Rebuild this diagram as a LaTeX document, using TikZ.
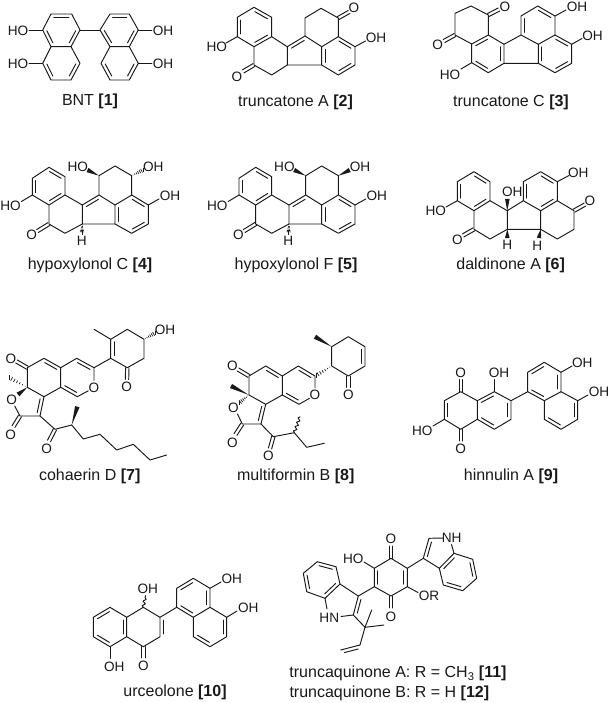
\documentclass[tikz,border=0pt]{standalone}
\usepackage{fontspec}
\setmainfont{Liberation Sans}
\usetikzlibrary{calc,decorations.pathmorphing}
\newcounter{nn}
\tikzset{
  bond/.style={line width=0.95pt,line cap=round,line join=round,black!90},
  atom/.style={inner sep=0pt,font=\fontsize{13.6}{14}\selectfont,black!90},
  captxt/.style={inner sep=0pt,font=\fontsize{16}{17}\selectfont,black!90},
  wavy/.style={bond,decorate,decoration={snake,amplitude=1.4pt,segment length=4.6pt}}
}
% inner line of a double bond, on the right of the way from #1 to #2 (on the page)
\newcommand\dr[2]{\draw[bond] ($(#1)!0.14!(#2)!-3.4pt!90:(#2)$) -- ($(#2)!0.14!(#1)!3.4pt!90:(#1)$);}
% symmetric double bond
\newcommand\dbb[2]{\draw[bond] ($(#1)!1.7pt!90:(#2)$) -- ($(#2)!-1.7pt!90:(#1)$); \draw[bond] ($(#1)!-1.7pt!90:(#2)$) -- ($(#2)!1.7pt!90:(#1)$);}
\newcommand\wdg[2]{\fill[black!90] (#1) -- ($(#2)!2.3pt!90:(#1)$) -- ($(#2)!-2.3pt!90:(#1)$) -- cycle;}
\newcommand\hsh[2]{\foreach \t [evaluate=\t as \w using \t*2.4] in {0.12,0.27,0.42,0.57,0.72,0.87,1.0} {\draw[black!90,line width=0.7pt] ($(#1)!\t!(#2)!\w pt!90:(#2)$) -- ($(#1)!\t!(#2)!-\w pt!90:(#2)$);}}
\newcommand\lb[2]{\stepcounter{nn}\node[atom] (a\thenn) at (#1) {#2};}
\newcommand\cp[2]{\stepcounter{nn}\node[captxt] (c\thenn) at (#1) {#2};}
\newcommand\hypcore{%
  \draw[bond] (32.3,195)--(32.3,178.3)--(49,167.3)--(65,176.7)--(65,195)--(49,205)--cycle;
  \draw[bond] (49,205)--(49,224)--(65,233.3)--(82.3,224)--(82.3,205)--(65,195);
  \draw[bond] (82.3,205)--(99,195)--(115,205)--(115,224)--(82.3,224);
  \draw[bond] (99,195)--(99,175.7)--(115,166)--(131.7,175.7)--(131.7,195)--(115,205);
  \draw[bond] (131.7,195)--(148.3,205)--(148.3,224)--(131.7,233.3)--(115,224);
  \dr{32.3,195}{32.3,178.3}\dr{49,167.3}{65,176.7}\dr{65,195}{49,205}
  \dr{82.3,205}{99,195}
  \dr{131.7,195}{148.3,205}\dr{148.3,224}{131.7,233.3}\dr{115,224}{115,205}
  \dbb{49,224}{37.5,231}
  \draw[bond] (32.3,195)--(21.5,201.5);
  \draw[bond] (148.3,205)--(159,199);
  \hsh{82.3,224}{81.9,233}
  \lb{31.7,234.5}{O}\lb{10.5,206}{HO}\lb{170,196}{OH}\lb{81.7,241}{H}
  \lb{77.7,166.7}{HO}
}
\begin{document}
\begin{tikzpicture}[x=1pt,y=-1pt]
\useasboundingbox (0,0) rectangle (610,703);
\fill[white] (0,0) rectangle (610,703);
% 1 BNT
\draw[bond] (42.7,30)--(51,14)--(71.7,14)--(80,30)--(71,46.7)--(51,46.7)--cycle;
\draw[bond] (51,46.7)--(42.7,63.3)--(51,80)--(71,80)--(80,63.3)--(71,46.7);
\draw[bond] (100,30)--(110,14)--(129.3,14)--(138.3,30)--(129.3,46.7)--(110,46.7)--cycle;
\draw[bond] (110,46.7)--(101,63.3)--(110,80)--(129.3,80)--(138.3,63.3)--(129.3,46.7);
\draw[bond] (80,30)--(100,30);
\dr{51,14}{71.7,14}\dr{80,30}{71,46.7}\dr{51,46.7}{42.7,30}\dr{80,63.3}{71,80}\dr{51,80}{42.7,63.3}
\dr{110,14}{129.3,14}\dr{138.3,30}{129.3,46.7}\dr{110,46.7}{100,30}\dr{138.3,63.3}{129.3,80}\dr{110,80}{101,63.3}
\draw[bond] (29,30)--(42.7,30);\draw[bond] (29,63.3)--(42.7,63.3);
\draw[bond] (138.3,30)--(152,30);\draw[bond] (138.3,63.3)--(152,63.3);
\lb{18,30.5}{HO}\lb{18,63.5}{HO}\lb{163,30.5}{OH}\lb{163,64}{OH}
\cp{90,101.5}{BNT \textbf{[1]}}
% 2 truncatone A
\draw[bond] (237.3,36.7)--(237.3,17.3)--(254,7.3)--(271.7,17.3)--(271.7,36.7)--(254,46.7)--cycle;
\draw[bond] (254,46.7)--(254,65)--(271.7,75)--(287.3,65)--(287.3,46.7)--(271.7,36.7);
\draw[bond] (287.3,65)--(321.7,65)--(321.7,46.7)--(305,36)--(287.3,46.7);
\draw[bond] (305,36)--(305,18)--(321,8.3)--(338.3,18)--(338.3,36.7)--(321.7,46.7);
\draw[bond] (338.3,36.7)--(355,46.7)--(355,65)--(338.3,75)--(321.7,65);
\dr{237.3,36.7}{237.3,17.3}\dr{254,7.3}{271.7,17.3}\dr{271.7,36.7}{254,46.7}\dr{287.3,46.7}{305,36}
\dr{338.3,36.7}{355,46.7}\dr{355,65}{338.3,75}\dr{321.7,65}{321.7,46.7}
\dbb{254,65}{243,71.5}\dbb{338.3,18}{349,12}
\draw[bond] (237.3,36.7)--(226,43);\draw[bond] (355,46.7)--(365.5,41);
\lb{237,76.5}{O}\lb{216.7,47}{HO}\lb{354,8}{O}\lb{376,37.5}{OH}
\cp{295.5,102}{truncatone A \textbf{[2]}}
% 3 truncatone C
\draw[bond] (471.7,44)--(488.3,35)--(504,44.3)--(504,63.3)--(488.3,72.7)--(471.7,62.7)--cycle;
\draw[bond] (471.7,44)--(455,35)--(455,13.3)--(471,6)--(488.3,15)--(488.3,35);
\draw[bond] (504,44.3)--(521,35)--(538.3,44.3)--(538.3,63.3)--(504,63.3);
\draw[bond] (521,35)--(521,16)--(537.7,6)--(555,16)--(555,35)--(538.3,44.3);
\draw[bond] (555,35)--(571.7,44.3)--(571.7,63.3)--(555,72.7)--(538.3,63.3);
\dr{471.7,44}{488.3,35}\dr{504,44.3}{504,63.3}\dr{488.3,72.7}{471.7,62.7}
\dr{521,35}{521,16}\dr{537.7,6}{555,16}
\dr{555,35}{571.7,44.3}\dr{571.7,63.3}{555,72.7}\dr{538.3,63.3}{538.3,44.3}
\dbb{455,35}{444,41}\dbb{488.3,15}{499,9.5}
\draw[bond] (471.7,62.7)--(461,69);\draw[bond] (555,16)--(566,10);\draw[bond] (571.7,44.3)--(582,38.5);
\lb{437.7,44.5}{O}\lb{505,6.5}{O}\lb{450,74.5}{HO}\lb{577,7}{OH}\lb{592.5,35.5}{OH}
\cp{511,102}{truncatone C \textbf{[3]}}
% 4 hypoxylonol C
\hypcore
\wdg{99,175.7}{87.5,170}
\hsh{131.7,175.7}{143,170}
\lb{153.3,166.7}{OH}
\cp{90,265}{hypoxylonol C \textbf{[4]}}
% 5 hypoxylonol F
\begin{scope}[xshift=206.7pt]
\hypcore
\wdg{99,175.7}{87.5,170}
\wdg{131.7,175.7}{143,170}
\lb{153.3,166.7}{OH}
\end{scope}
\cp{296,265}{hypoxylonol F \textbf{[5]}}
% 6 daldinone A
\draw[bond] (457.3,200.7)--(457.3,181.7)--(474,171.7)--(490,181.7)--(490,200.7)--(474,210.7)--cycle;
\draw[bond] (474,210.7)--(474,229.3)--(490,239)--(507.3,229.3)--(507.3,210.7)--(490,200.7);
\draw[bond] (507.3,210.7)--(523.3,200.7)--(540.7,210.7)--(540.7,229.3)--(507.3,229.3);
\draw[bond] (523.3,200.7)--(523.3,181.7)--(540.7,171.7)--(557.3,181.7)--(557.3,200.7)--(540.7,210.7);
\draw[bond] (557.3,200.7)--(574,210.7)--(574,229.3)--(557.3,239)--(540.7,229.3);
\dr{457.3,200.7}{457.3,181.7}\dr{474,171.7}{490,181.7}\dr{490,200.7}{474,210.7}
\dr{523.3,200.7}{523.3,181.7}\dr{540.7,171.7}{557.3,181.7}\dr{557.3,200.7}{540.7,210.7}
\dbb{574,210.7}{585,204.5}\dbb{474,229.3}{463,235.5}
\draw[bond] (557.3,181.7)--(569,175.5);\draw[bond] (457.3,200.7)--(446,207);
\wdg{507.3,210.7}{507.3,199}\wdg{507.3,229.3}{507.3,238}\wdg{540.7,229.3}{539,238}
\lb{578.3,172.5}{OH}\lb{590,201}{O}\lb{435.7,211}{HO}\lb{457.3,240}{O}\lb{512.3,191.5}{OH}\lb{507.3,245}{H}\lb{537.3,245.5}{H}
\cp{510.7,265}{daldinone A \textbf{[6]}}
% 7 cohaerin D
\draw[bond] (27.3,367.7)--(44,358.3)--(60.7,367.7)--(60.7,387.3)--(44,396.7)--(27.3,387.3)--cycle;
\draw[bond] (60.7,367.7)--(76.7,358.3)--(94,367.7)--(94,380.5);
\draw[bond] (88.3,390.8)--(77.3,396.7)--(60.7,387.3);
\dr{44,358.3}{60.7,367.7}\dr{76.7,358.3}{94,367.7}\dr{77.3,396.7}{60.7,387.3}
\dbb{27.3,367.7}{16.5,361.5}
\draw[bond] (14.7,406)--(20,416)--(40,416)--(44,396.7);
\dr{44,396.7}{40,416}
\dbb{20,416}{13.5,426.5}
\draw[bond] (40,416)--(55,429.3)--(71.7,425);
\dbb{55,429.3}{49,441}
\wdg{71.7,425}{77.3,406.7}
\draw[bond] (71.7,425)--(83.3,439)--(100,434.3)--(116.7,450)--(133.3,444.3)--(150,460)--(166.7,455);
\wdg{27.3,387.3}{18,394.5}
\hsh{27.3,387.3}{9.3,377.7}
\draw[bond] (94,367.7)--(110.7,358.3)--(110.7,339.3)--(127.3,329.3)--(144,339.3)--(144,358.3)--(127.3,367.7)--(110.7,358.3);
\dr{110.7,358.3}{110.7,339.3}
\draw[bond] (110.7,339.3)--(94,329.3);
\dbb{127.3,367.7}{127,379.5}
\hsh{144,339.3}{155,333}
\lb{11,358.5}{O}\lb{94,387.5}{O}\lb{11.7,400}{O}\lb{10.7,434.5}{O}\lb{46.7,448.5}{O}\lb{126.7,387}{O}\lb{165,329.5}{OH}
\cp{89.7,476}{cohaerin D \textbf{[7]}}
% 8 multiformin B
\draw[bond] (249,376)--(265.7,366)--(282.3,376)--(282.3,395)--(265.7,404.3)--(249,395)--cycle;
\draw[bond] (282.3,376)--(298.3,366)--(315,376)--(315,388);
\draw[bond] (309.5,398.3)--(299,404.3)--(282.3,395);
\dr{265.7,366}{282.3,376}\dr{298.3,366}{315,376}\dr{299,404.3}{282.3,395}
\dbb{249,376}{238,369.5}
\draw[bond] (237.5,414)--(242.3,424)--(261,424)--(265.7,404.3);
\dr{265.7,404.3}{261,424}
\dbb{242.3,424}{235.5,434.5}
\draw[bond] (261,424)--(273.3,436.7)--(294.3,432.7)--(306.7,447.3)--(324.3,443.3);
\dbb{273.3,436.7}{270,448.5}
\draw[wavy] (294.3,432.7)--(300,416.7);
\wdg{249,395}{231,386}
\hsh{249,395}{239,403}
\hsh{331.7,366}{316,375.5}
\draw[bond] (331.7,366)--(331.7,346.7)--(348.3,336.7)--(365,346.7)--(365,366)--(348.3,376)--cycle;
\dr{365,346.7}{365,366}
\wdg{331.7,346.7}{315,336.7}
\dbb{348.3,376}{348.3,387.5}
\lb{232.3,366}{O}\lb{315,395}{O}\lb{233.3,407.5}{O}\lb{232.3,442.5}{O}\lb{268.3,456}{O}\lb{348.3,395}{O}
\cp{295.7,476}{multiformin B \textbf{[8]}}
% 9 hinnulin A
\draw[bond] (460.7,391.7)--(477.3,400.7)--(477.3,419.3)--(460.7,429.3)--(444.3,419.3)--(444.3,400.7)--cycle;
\draw[bond] (477.3,400.7)--(494.3,391.7)--(511,400.7)--(511,419.3)--(494.3,429.3)--(477.3,419.3);
\draw[bond] (511,400.7)--(527.7,391.7);
\draw[bond] (527.7,391.7)--(527.7,372.3)--(544.3,362.3)--(561,372.3)--(561,391.7)--(544.3,400.7)--cycle;
\draw[bond] (561,391.7)--(577.7,400.7)--(577.7,419.3)--(561,429.3)--(544.3,419.3)--(544.3,400.7);
\dr{444.3,419.3}{444.3,400.7}\dr{477.3,400.7}{494.3,391.7}\dr{494.3,429.3}{477.3,419.3}\dr{511,400.7}{511,419.3}
\dr{527.7,372.3}{544.3,362.3}\dr{561,372.3}{561,391.7}\dr{544.3,400.7}{527.7,391.7}
\dr{577.7,400.7}{577.7,419.3}\dr{561,429.3}{544.3,419.3}
\dbb{460.7,391.7}{460.7,379.5}\dbb{460.7,429.3}{460.7,441}
\draw[bond] (444.3,419.3)--(433,426);\draw[bond] (494.3,391.7)--(494.3,379.5);
\draw[bond] (561,372.3)--(572,366);\draw[bond] (577.7,400.7)--(588,395);
\lb{460.7,372.5}{O}\lb{460.7,448.5}{O}\lb{422.3,430.5}{HO}\lb{499,372.5}{OH}\lb{582.3,363}{OH}\lb{599,392}{OH}
\cp{511,476}{hinnulin A \textbf{[9]}}
% 10 urceolone
\draw[bond] (93.3,636.7)--(93.3,617.3)--(110,607.3)--(126.7,617.3)--(126.7,636.7)--(110,646.7)--cycle;
\draw[bond] (126.7,617.3)--(143.3,607.3)--(160,617.3)--(160,636.7)--(143.3,646.7)--(126.7,636.7);
\draw[bond] (160,617.3)--(176.7,607.3);
\draw[bond] (176.7,607.3)--(176.7,588.3)--(193.3,578.3)--(210,588.3)--(210,607.3)--(193.3,617.3)--cycle;
\draw[bond] (210,607.3)--(226.7,617.3)--(226.7,636.7)--(210,646.7)--(193.3,636.7)--(193.3,617.3);
\dr{93.3,617.3}{110,607.3}\dr{126.7,617.3}{126.7,636.7}\dr{110,646.7}{93.3,636.7}
\dr{160,636.7}{160,617.3}
\dr{176.7,588.3}{193.3,578.3}\dr{210,588.3}{210,607.3}\dr{193.3,617.3}{176.7,607.3}
\dr{226.7,617.3}{226.7,636.7}\dr{210,646.7}{193.3,636.7}
\dbb{143.3,646.7}{143.3,658}
\draw[bond] (110,646.7)--(110,658.5);
\draw[wavy] (143.3,607.3)--(145.5,595.5);
\draw[bond] (210,588.3)--(221,582);\draw[bond] (226.7,617.3)--(237,611);
\lb{147.7,588.5}{OH}\lb{143.3,665.5}{O}\lb{114.3,666.5}{OH}\lb{231.7,578.5}{OH}\lb{248.3,607.5}{OH}
\cp{175,692}{urceolone \textbf{[10]}}
% 11/12 truncaquinones
\draw[bond] (374.3,586.7)--(374.3,568.3)--(391,558.3)--(407.3,568.3)--(407.3,586.7)--(391,596)--cycle;
\dr{374.3,586.7}{374.3,568.3}\dr{407.3,568.3}{407.3,586.7}
\dbb{391,558.3}{391,546}\dbb{391,596}{391,608}
\draw[bond] (374.3,568.3)--(364,562);\draw[bond] (407.3,586.7)--(418,592.5);
\draw[bond] (407.3,568.3)--(423.3,558.3)--(429,538.3)--(443.5,538);
\draw[bond] (423.3,558.3)--(439.3,568.3)--(454,553.3)--(451.5,544.5);
\dr{423.3,558.3}{429,538.3}
\draw[bond] (454,553.3)--(472.7,559.3)--(476.7,578.3)--(462.7,590.7)--(443.3,585)--(439.3,568.3);
\dr{472.7,559.3}{476.7,578.3}\dr{462.7,590.7}{443.3,585}\dr{439.3,568.3}{454,553.3}
\draw[bond] (374.3,586.7)--(358.3,596)--(353.3,615)--(341,616.5);
\draw[bond] (358.3,596)--(340,584)--(325,598.3)--(327,609);
\dr{353.3,615}{358.3,596}\dr{340,584}{325,598.3}
\draw[bond] (325,598.3)--(306.7,591.7)--(303.3,573.3)--(317.3,561.7)--(336,566.7)--(340,584);
\dr{306.7,591.7}{303.3,573.3}\dr{317.3,561.7}{336,566.7}
\draw[bond] (353.3,615)--(365,627.3)--(371.7,610);
\draw[bond] (365,627.3)--(384,625);
\draw[bond] (365,627.3)--(360,645)--(340.7,650);
\dr{340.7,650}{360,645}
\lb{391,538.5}{O}\lb{391,616.5}{O}\lb{353.3,559}{HO}\lb{429,596}{OR}\lb{451.7,537.5}{NH}\lb{329.3,617.5}{HN}
\cp{398,673.5}{truncaquinone A: R = CH\textsubscript{3} \textbf{[11]}}
\stepcounter{nn}\node[captxt,anchor=west] (c\thenn) at (289.3,693) {truncaquinone B: R = H \textbf{[12]}};
\end{tikzpicture}
\end{document}
